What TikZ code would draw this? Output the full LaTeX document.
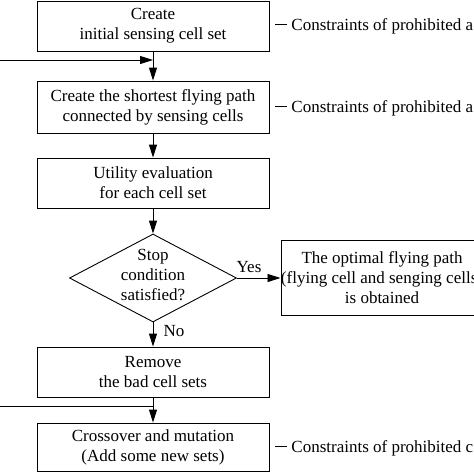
\documentclass[tikz,border=0pt]{standalone}
\usepackage{fontspec}
\setmainfont{Liberation Serif}
\usetikzlibrary{arrows.meta,shapes.geometric}
\newcommand{\myfs}{\fontsize{17}{20}\selectfont}
\begin{document}
\begin{tikzpicture}[x=1pt,y=-1pt,line width=0.9pt,
  box/.style={draw, minimum width=232pt, minimum height=50pt, inner sep=0pt, align=center, font=\myfs},
  txt/.style={inner sep=0pt, align=center, font=\myfs},
  arr/.style={-{Triangle[length=13pt,width=8pt]}},
  cons/.style={anchor=base west, inner sep=0pt, font=\myfs}]
\useasboundingbox (0,0) rectangle (474,474);
\clip (0,0) rectangle (474,474);
\node[box] (b1) at (153,26) {Create\\initial sensing cell set};
\node[box, minimum height=52pt] (b2) at (153,107) {Create the shortest flying path\\connected by sensing cells};
\node[box] (b3) at (153,183) {Utility evaluation\\for each cell set};
\node[diamond, draw, minimum width=167pt, minimum height=88pt, inner sep=0pt] (d) at (153,278) {};
\node[txt] (dt) at (153,275) {Stop\\condition\\satisfied?};
\node[box, minimum width=198pt, minimum height=75pt] (ob) at (382,278) {The optimal flying path\\(flying cell and senging cells)\\is obtained};
\node[box] (b4) at (153,372) {Remove\\the bad cell sets};
\node[box, minimum height=48pt] (b5) at (153,447) {Crossover and mutation\\(Add some new sets)};
\coordinate (l1) at (0,60);
\coordinate (l2) at (0,406);
\draw[arr] (b1.south) -- (b2.north);
\draw[arr] (l1) -- (l1 -| b1.south);
\draw[arr] (b2.south) -- (b3.north);
\draw[arr] (b3.south) -- (d.north);
\draw[arr] (d.east) -- (ob.west);
\draw[arr] (d.south) -- (b4.north);
\draw[arr] (b4.south) -- (b5.north);
\draw (l2) -- (l2 -| b4.south);
\node[txt] (yes) at (249,267) {Yes};
\node[txt] (no) at (174,331) {No};
\node[cons] (c1) at (275,30) {\rule[5pt]{12pt}{0.9pt}\hspace{4pt}Constraints of prohibited a};
\node[cons] (c2) at (275,112) {\rule[5pt]{12pt}{0.9pt}\hspace{4pt}Constraints of prohibited a};
\node[cons] (c3) at (275,452) {\rule[5pt]{12pt}{0.9pt}\hspace{4pt}Constraints of prohibited c};
\end{tikzpicture}
\end{document}
